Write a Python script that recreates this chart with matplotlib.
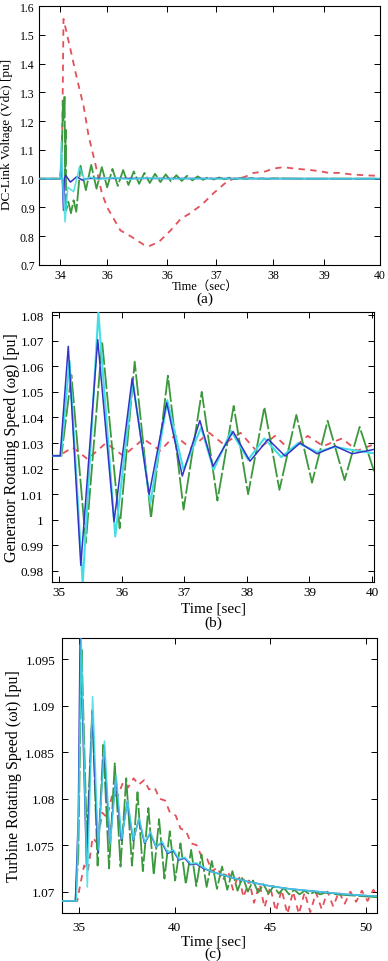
import matplotlib
matplotlib.use("Agg")
import matplotlib.pyplot as plt

# ---------------- Panel (a): DC-link voltage ----------------
a_red_t = [33.6, 34.0, 34.02, 34.04, 34.06, 34.19, 34.31, 34.44, 34.53, 34.66, 34.78, 34.88, 35.13, 35.32,
           35.57, 35.66, 35.85, 36.07, 36.26, 36.44, 36.66, 36.88, 37.13, 37.26, 37.45, 37.63, 37.85, 38.0,
           38.19, 38.4, 38.7, 38.9, 39.04, 39.25, 39.45, 39.7, 39.95, 40.0]
a_red_v = [1.0, 1.0, 1.05, 1.2, 1.555, 1.45, 1.35, 1.25, 1.15, 1.05, 0.95, 0.9, 0.82, 0.8,
           0.77, 0.765, 0.78, 0.82, 0.86, 0.88, 0.91, 0.95, 0.99, 1.0, 1.005, 1.02, 1.025, 1.035,
           1.04, 1.035, 1.03, 1.025, 1.02, 1.02, 1.015, 1.012, 1.01, 1.01]

a_green_t = [33.6, 34.0, 34.03, 34.05, 34.06, 34.08, 34.09, 34.1, 34.11, 34.15, 34.2, 34.25, 34.3, 34.38,
             34.48, 34.58, 34.68, 34.78, 34.88, 34.98, 35.08, 35.18, 35.28, 35.38, 35.48, 35.58, 35.68,
             35.78, 35.88, 35.98, 36.08, 36.18, 36.28, 36.38, 36.48, 36.58, 36.68, 36.78, 36.88, 36.98,
             37.08, 37.18, 37.28, 37.38, 37.48, 37.58, 37.68, 37.78, 37.88, 38.0, 38.5, 40.0]
a_green_v = [1.0, 1.0, 1.10, 1.27, 1.2, 1.29, 1.0, 1.17, 0.89, 0.92, 0.88, 0.925, 0.885, 1.045,
             0.96, 1.048, 0.965, 1.04, 0.97, 1.034, 0.975, 1.03, 0.978, 1.025, 0.982, 1.02, 0.985,
             1.017, 0.988, 1.015, 0.99, 1.012, 0.992, 1.01, 0.994, 1.008, 0.996, 1.005, 0.997, 1.004,
             0.998, 1.003, 0.998, 1.002, 0.999, 1.002, 0.999, 1.001, 0.999, 1.001, 1.0, 1.0]

a_blue_t = [33.6, 34.0, 34.02, 34.04, 34.06, 34.075, 34.1, 34.19, 34.31, 34.41, 34.5, 34.6, 40.0]
a_blue_v = [1.0, 1.0, 1.055, 0.99, 0.89, 1.0, 1.012, 0.988, 1.007, 0.995, 1.0, 1.001, 1.0]

a_cyan_t = [33.6, 34.0, 34.02, 34.04, 34.09, 34.14, 34.25, 34.36, 34.46, 34.56, 34.7, 35.0, 35.3, 35.6, 36.0, 40.0]
a_cyan_v = [1.0, 1.0, 1.13, 1.0, 0.85, 0.97, 0.955, 1.04, 0.995, 1.005, 0.998, 1.003, 0.998, 1.002, 1.0, 1.0]

a_yticks = [0.7, 0.8, 0.9, 1.0, 1.1, 1.2, 1.3, 1.4, 1.5, 1.6]
a_xticklabels = ["34", "36", "36", "37", "38", "39", "40"]

# ---------------- Panel (b): generator speed ----------------
b_blue_t = [34.89, 35.02, 35.15, 35.35, 35.62, 35.88, 36.17, 36.44, 36.72, 36.97, 37.25, 37.46, 37.78,
            38.05, 38.34, 38.61, 38.85, 39.12, 39.41, 39.68, 40.03]
b_blue_v = [1.025, 1.025, 1.0678, 0.9822, 1.0704, 0.9993, 1.0553, 1.0099, 1.0458, 1.0171, 1.0388, 1.0209, 1.0345,
            1.0229, 1.0315, 1.0249, 1.030, 1.0258, 1.0288, 1.0258, 1.0275]

b_cyan_t = [34.89, 35.03, 35.17, 35.38, 35.63, 35.9, 36.18, 36.46, 36.73, 36.99, 37.27, 37.47, 37.75,
            38.02, 38.28, 38.55, 38.82, 39.12, 39.4, 39.7, 40.03]
b_cyan_v = [1.025, 1.025, 1.062, 0.975, 1.081, 0.9935, 1.054, 1.0066, 1.0467, 1.0195, 1.036, 1.0196, 1.0347,
            1.0235, 1.0318, 1.0245, 1.030, 1.0265, 1.0285, 1.0272, 1.026]

b_green_t = [34.89, 35.04, 35.2, 35.43, 35.69, 35.97, 36.21, 36.47, 36.74, 36.99, 37.28, 37.53, 37.79,
             38.02, 38.28, 38.52, 38.79, 39.04, 39.29, 39.56, 39.8, 40.03]
b_green_v = [1.025, 1.025, 1.0566, 0.991, 1.0697, 0.9967, 1.0618, 1.0007, 1.0563, 1.004, 1.050, 1.0075, 1.0445,
             1.0100, 1.044, 1.0117, 1.041, 1.0145, 1.0387, 1.0155, 1.0363, 1.019]

b_red_t = [34.89, 35.0, 35.22, 35.46, 35.75, 36.03, 36.35, 36.62, 36.85, 37.1, 37.4, 37.63, 37.9,
           38.15, 38.45, 38.7, 38.97, 39.22, 39.52, 39.76, 40.03]
b_red_v = [1.025, 1.025, 1.0283, 1.0237, 1.030, 1.025, 1.0316, 1.027, 1.033, 1.028, 1.034, 1.0295, 1.034,
           1.027, 1.0328, 1.027, 1.0328, 1.0288, 1.0318, 1.027, 1.0295]

b_yticks = [0.98, 0.99, 1.0, 1.01, 1.02, 1.03, 1.04, 1.05, 1.06, 1.07, 1.08]
b_yticklabels = ["0.98", "0.99", "1", "1.01", "1.02", "1.03", "1.04", "1.05", "1.06", "1.07", "1.08"]
b_xticks = [35, 36, 37, 38, 39, 40]

# ---------------- Panel (c): turbine speed ----------------
c_blue_t = [34.1, 34.8, 34.95, 35.05, 35.38, 35.68, 35.98, 36.3, 36.6, 36.92, 37.2, 37.52, 37.82, 38.12,
            38.42, 38.72, 39.02, 39.32, 39.62, 39.92, 40.22, 40.52, 40.82, 41.12, 41.5, 42, 43, 44, 45,
            46, 47, 48, 49, 50.6]
c_blue_v = [1.069, 1.069, 1.078, 1.0985, 1.0728, 1.0893, 1.0742, 1.0857, 1.0752, 1.0823, 1.0755, 1.0797,
            1.0755, 1.0778, 1.0752, 1.0763, 1.0748, 1.0753, 1.0741, 1.0744, 1.0734, 1.0736, 1.0729, 1.073,
            1.0725, 1.0721, 1.0715, 1.071, 1.0706, 1.0703, 1.0701, 1.0699, 1.0697, 1.0695]

c_cyan_t = [34.1, 34.85, 34.98, 35.1, 35.42, 35.7, 36.0, 36.32, 36.62, 36.93, 37.22, 37.53, 37.83, 38.13,
            38.43, 38.73, 39.03, 39.33, 39.63, 39.93, 40.23, 40.53, 40.83, 41.13, 41.5, 42, 43, 44, 45,
            46, 47, 48, 49, 50.6]
c_cyan_v = [1.069, 1.069, 1.08, 1.0972, 1.0705, 1.0910, 1.0745, 1.0862, 1.0752, 1.0825, 1.0757, 1.0798,
            1.0756, 1.0779, 1.0753, 1.0764, 1.0748, 1.0754, 1.0742, 1.0745, 1.0735, 1.0737, 1.073, 1.0731,
            1.0726, 1.0721, 1.0715, 1.071, 1.0706, 1.0703, 1.0701, 1.0699, 1.0697, 1.0695]

c_green_t = [34.1, 34.8, 34.95, 35.12, 35.4, 35.68, 35.96, 36.26, 36.56, 36.86, 37.16, 37.46, 37.76, 38.05,
             38.33, 38.62, 38.9, 39.18, 39.46, 39.74, 40.02, 40.3, 40.58, 40.86, 41.13, 41.4, 41.67, 41.94,
             42.21, 42.48, 42.75, 43.02, 43.29, 43.56, 43.83, 44.1, 44.37, 44.64, 44.91, 45.18, 45.45,
             45.72, 45.99, 46.26, 46.53, 46.8, 47.07, 47.34, 47.61, 47.9, 48.5, 50.6]
c_green_v = [1.069, 1.069, 1.074, 1.0962, 1.0755, 1.0895, 1.0728, 1.0858, 1.0725, 1.0838, 1.0727, 1.0822,
             1.0728, 1.0807, 1.0722, 1.079, 1.0718, 1.0778, 1.0714, 1.0765, 1.0712, 1.0752, 1.0708, 1.0745,
             1.0706, 1.074, 1.0705, 1.0733, 1.0703, 1.0727, 1.0702, 1.0722, 1.0701, 1.0716, 1.07, 1.0712,
             1.0699, 1.0708, 1.0698, 1.0706, 1.0698, 1.0704, 1.0697, 1.0702, 1.0697, 1.0701, 1.0697, 1.07,
             1.0697, 1.0699, 1.0697, 1.0694]

c_red_t = [34.1, 34.9, 35.0, 35.25, 35.45, 35.7, 35.95, 36.2, 36.45, 36.75, 37.0, 37.3, 37.55, 37.85, 38.1,
           38.4, 38.65, 38.95, 39.2, 39.5, 39.75, 40.05, 40.3, 40.6, 40.85, 41.15, 41.4, 41.7, 41.95, 42.25,
           42.5, 42.8, 43.05, 43.35, 43.6, 43.9, 44.15, 44.45, 44.7, 45.0, 45.3, 45.6, 45.9, 46.2, 46.5,
           46.8, 47.1, 47.4, 47.7, 48.0, 48.3, 48.6, 48.9, 49.2, 49.5, 49.8, 50.1, 50.4, 50.6]
c_red_v = [1.069, 1.069, 1.0702, 1.0728, 1.0722, 1.0758, 1.0752, 1.0785, 1.078, 1.0806, 1.0802, 1.0818,
           1.0812, 1.0822, 1.0815, 1.082, 1.081, 1.0812, 1.08, 1.0798, 1.0785, 1.0782, 1.0768, 1.0765,
           1.0752, 1.075, 1.0738, 1.0735, 1.0722, 1.0726, 1.0712, 1.0722, 1.0702, 1.0718, 1.0694, 1.0712,
           1.0688, 1.0708, 1.0683, 1.0705, 1.0679, 1.0702, 1.0676, 1.07, 1.0676, 1.0699, 1.0678, 1.0699,
           1.0681, 1.07, 1.0684, 1.07, 1.0687, 1.07, 1.0689, 1.0701, 1.069, 1.0702, 1.0697]

c_yticks = [1.07, 1.075, 1.08, 1.085, 1.09, 1.095]
c_yticklabels = ["1.07", "1.075", "1.08", "1.085", "1.09", "1.095"]
c_xticks = [35, 40, 45, 50]

# ---------------- styling ----------------
RED = "#e4505a"
GREEN = "#3c983c"
BLUE = "#3434c4"
CYAN = "#44dde6"
SERIF = ["Liberation Serif", "DejaVu Serif"]
plt.rcParams["font.family"] = SERIF

fig = plt.figure(figsize=(3.88, 9.62), dpi=100)


def draw(ax, red, green, cyan, blue, cyan_on_top=False):
    ax.plot(*red, color=RED, lw=1.3, linestyle=(0, (3.5, 3)))
    ax.plot(*green, color=GREEN, lw=1.3, linestyle=(0, (12, 1.5)), solid_joinstyle="round")
    zc, zb = (4, 3) if cyan_on_top else (3, 4)
    ax.plot(*blue, color=BLUE, lw=1.1, solid_joinstyle="round", zorder=zb)
    ax.plot(*cyan, color=CYAN, lw=1.5 if not cyan_on_top else 1.2, solid_joinstyle="round",
            alpha=1.0 if not cyan_on_top else 0.85, zorder=zc)
    ax.tick_params(direction="in", top=True, right=True, length=4, width=0.7)
    for s in ax.spines.values():
        s.set_linewidth(0.8)


# (a)
ax1 = fig.add_axes([0.1005, 0.7235, 0.8785, 0.2692])
draw(ax1, (a_red_t, a_red_v), (a_green_t, a_green_v), (a_cyan_t, a_cyan_v), (a_blue_t, a_blue_v),
     cyan_on_top=True)
ax1.set_xlim(33.6, 40.0)
ax1.set_ylim(0.7, 1.6)
ax1.set_xticks([34, 34.88, 36, 36.93, 38, 38.96, 40])
ax1.set_xticklabels(a_xticklabels)
ax1.set_yticks(a_yticks)
ax1.set_yticklabels([f"{v:.1f}" for v in a_yticks])
ax1.tick_params(labelsize=8.5, pad=3)
fig.text(0.018, 0.86, "DC-Link Voltage (Vdc) [pu]", rotation=90, ha="center", va="center", fontsize=9.5)
fig.text(0.528, 1 - 287 / 962, "Time（sec）", ha="center", va="center", fontsize=9,
         family=["Liberation Serif", "Noto Sans CJK SC"])
fig.text(0.528, 1 - 299 / 962, "(a)", ha="center", va="center", fontsize=11)

# (b)
ax2 = fig.add_axes([0.134, 0.394, 0.830, 0.2806])
draw(ax2, (b_red_t, b_red_v), (b_green_t, b_green_v), (b_cyan_t, b_cyan_v), (b_blue_t, b_blue_v))
ax2.set_xlim(34.89, 40.03)
ax2.set_ylim(0.9757, 1.0812)
ax2.set_xticks(b_xticks)
ax2.set_yticks(b_yticks)
ax2.set_yticklabels(b_yticklabels)
ax2.tick_params(labelsize=9.5)
ax2.tick_params(axis="y", pad=6)
ax2.tick_params(axis="x", pad=3)
fig.text(0.031, 0.535, "Generator Rotating Speed (ωg) [pu]", rotation=90, ha="center", va="center", fontsize=11.5)
fig.text(0.549, 1 - 609 / 962, "Time [sec]", ha="center", va="center", fontsize=11)
fig.text(0.549, 1 - 623 / 962, "(b)", ha="center", va="center", fontsize=11)

# (c)
ax3 = fig.add_axes([0.160, 0.0499, 0.812, 0.2859])
draw(ax3, (c_red_t, c_red_v), (c_green_t, c_green_v), (c_cyan_t, c_cyan_v), (c_blue_t, c_blue_v),
     cyan_on_top=True)
ax3.set_xlim(34.1, 50.6)
ax3.set_ylim(1.0677, 1.0973)
ax3.set_xticks(c_xticks)
ax3.set_yticks(c_yticks)
ax3.set_yticklabels(c_yticklabels)
ax3.tick_params(labelsize=9.5)
ax3.tick_params(axis="y", pad=5)
ax3.tick_params(axis="x", pad=6)
fig.text(0.036, 0.193, "Turbine Rotating Speed (ωt) [pu]", rotation=90, ha="center", va="center", fontsize=11.5)
fig.text(0.549, 1 - 942 / 962, "Time [sec]", ha="center", va="center", fontsize=11)
fig.text(0.549, 1 - 954 / 962, "(c)", ha="center", va="center", fontsize=11)

fig.savefig("out.png", dpi=100)
